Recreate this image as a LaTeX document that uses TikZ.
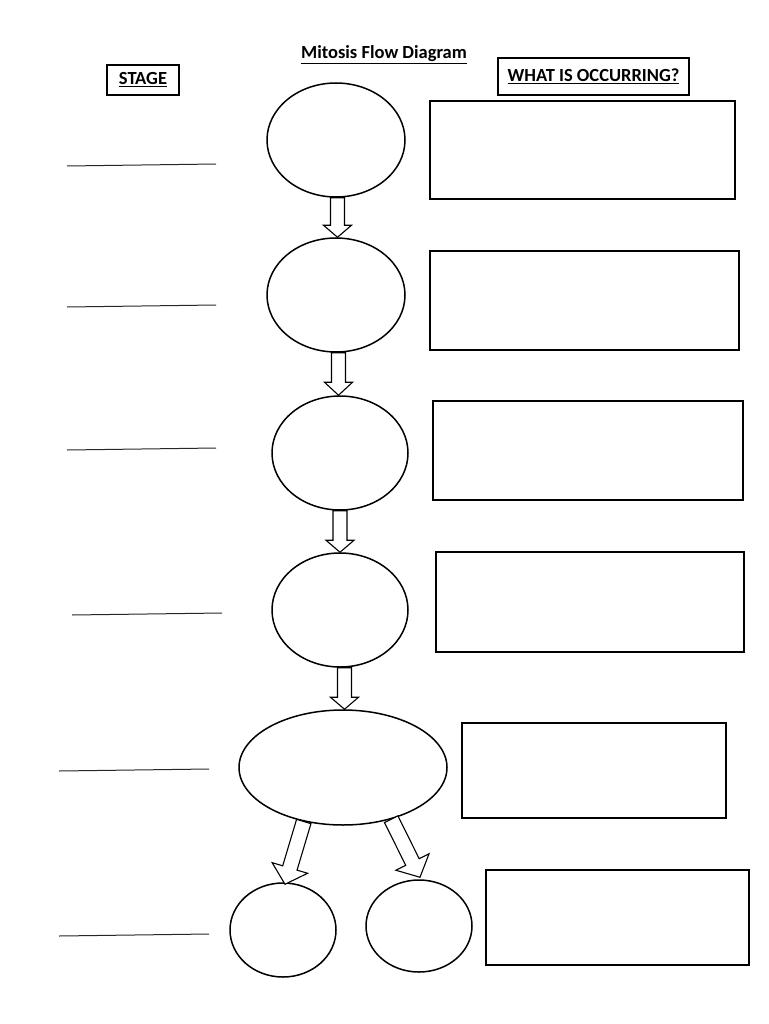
\documentclass[tikz,border=0pt]{standalone}
\usepackage{fontspec}
\setmainfont{Carlito}
\usetikzlibrary{shapes.geometric,calc}
\tikzset{
  cell/.style={ellipse,draw,line width=1.5pt,inner sep=0pt},
  infobox/.style={draw,line width=1.3pt,inner sep=0pt},
  headbox/.style={draw,line width=1.2pt,inner sep=0pt,font=\fontsize{18.5}{22}\selectfont\bfseries},
  stageline/.style={line width=1pt,black!85},
  blockarr/.style={draw,line width=1.1pt,fill=white,line join=miter}
}
\newcommand\blockarrow[5]{%
  \path (#1) coordinate (ba-s) (#2) coordinate (ba-t);
  \coordinate (ba-h) at ($(ba-t)!#5!(ba-s)$);
  \draw[blockarr] ($(ba-s)!#3!90:(ba-t)$) -- ($(ba-h)!#3!-90:(ba-s)$)
    -- ($(ba-h)!#4!-90:(ba-s)$) -- (ba-t) -- ($(ba-h)!#4!90:(ba-s)$)
    -- ($(ba-h)!#3!90:(ba-s)$) -- ($(ba-s)!#3!-90:(ba-t)$) -- cycle;
}
\begin{document}
\begin{tikzpicture}[x=1pt,y=-1pt]
\useasboundingbox (0,0) rectangle (768,1024);
% title and headers
\node[font=\fontsize{18.5}{22}\selectfont\bfseries] (title) at (384,55) {\underline{Mitosis Flow Diagram}};
\node[headbox,minimum width=72pt,minimum height=30pt] (hstage) at (143,80) {\underline{STAGE}};
\node[headbox,minimum width=191pt,minimum height=37pt] (hwhat) at (593.5,76.5) {\underline{WHAT IS OCCURRING?}};
% cells
\node[cell,minimum width=138pt,minimum height=114pt] (e1) at (336,140) {};
\node[cell,minimum width=138pt,minimum height=114pt] (e2) at (336,295) {};
\node[cell,minimum width=136pt,minimum height=114pt] (e3) at (340,453) {};
\node[cell,minimum width=136pt,minimum height=114pt] (e4) at (340,610) {};
\node[cell,minimum width=208pt,minimum height=115pt] (e5) at (343,767.5) {};
\node[cell,minimum width=106pt,minimum height=94pt] (e6) at (283,930) {};
\node[cell,minimum width=106pt,minimum height=92pt] (e7) at (419,926) {};
% boxes
\node[infobox,minimum width=305pt,minimum height=98pt] (b1) at (582.5,150) {};
\node[infobox,minimum width=309pt,minimum height=99pt] (b2) at (584.5,300.5) {};
\node[infobox,minimum width=310pt,minimum height=99pt] (b3) at (588,450.5) {};
\node[infobox,minimum width=308pt,minimum height=100pt] (b4) at (590,602) {};
\node[infobox,minimum width=264pt,minimum height=95pt] (b5) at (594,770.5) {};
\node[infobox,minimum width=263pt,minimum height=95pt] (b6) at (617.5,917.5) {};
% stage lines
\draw[stageline] (67,166) -- (216,164);
\draw[stageline] (67,307) -- (216,305);
\draw[stageline] (67,450) -- (216,448);
\draw[stageline] (72,615) -- (222,613);
\draw[stageline] (59,771) -- (209,769);
\draw[stageline] (59,936) -- (209,934);
% arrows
\blockarrow{$(e1.south)+(1.5,0)$}{$(e2.north)+(1.5,0)$}{7pt}{14pt}{12pt}
\blockarrow{$(e2.south -| e3.north)+(-1.5,0)$}{$(e3.north)+(-1.5,0)$}{7pt}{14pt}{13pt}
\blockarrow{e3.south}{e4.north}{7pt}{14pt}{12pt}
\blockarrow{$(e4.south -| e5.north)+(1.5,0)$}{$(e5.north)+(1.5,0)$}{7pt}{14pt}{12pt}
\blockarrow{e5.234}{$(e6.north)+(2,2)$}{7.5pt}{18.5pt}{17pt}
\blockarrow{e5.-47}{$(e7.north)+(1,-2)$}{7.5pt}{18.5pt}{17pt}
\end{tikzpicture}
\end{document}
